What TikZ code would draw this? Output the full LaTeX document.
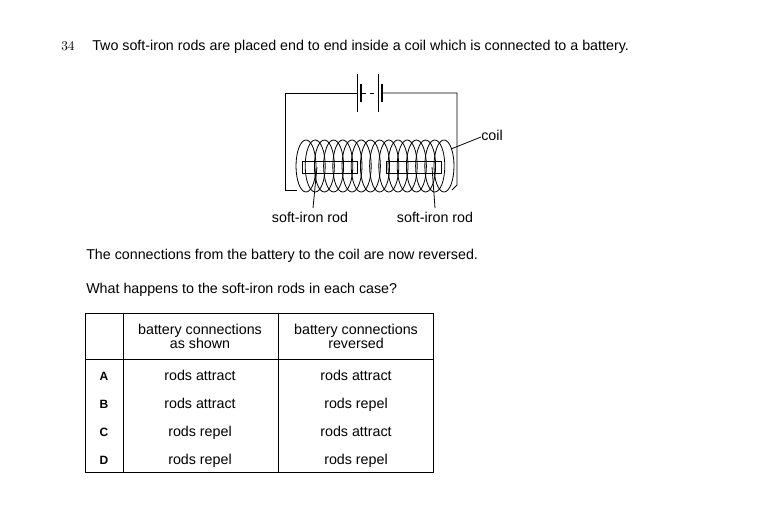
\documentclass[tikz,border=0pt]{standalone}
\usepackage{fontspec}
\setmainfont{Liberation Sans}
\begin{document}
\begin{tikzpicture}[x=0.75pt,y=-0.75pt,font=\fontsize{10.7}{12.5}\selectfont,
  lbl/.style={inner sep=0pt,text height=7.5pt,text depth=2pt},
  wire/.style={line width=0.6pt}]
\useasboundingbox (0,0) rectangle (759,518);

\node[lbl,anchor=west,font=\fontfamily{lmr}\selectfont\fontsize{10}{11}\selectfont] (num) at (61,47) {34};
\node[lbl,anchor=west] (q) at (92,47) {Two soft-iron rods are placed end to end inside a coil which is connected to a battery.};

% circuit
\coordinate (bl) at (357,93);
\coordinate (br) at (382,93);
\draw[wire] (bl) -- (285,93) -- (285,190) -- (297,190);
\draw[wire] (br) -- (457,93) -- (457,185) -- (452,190);
\draw[wire] (357,74) -- (357,112);
\draw[line width=1.2pt] (361,84) -- (361,102);
\draw[wire,dashed] (362,93) -- (378,93);
\draw[wire] (378,74) -- (378,112);
\draw[line width=1.2pt] (382,84) -- (382,102);

% rods
\draw[wire,fill=white] (302,161) rectangle (357,173);
\draw[wire,fill=white] (386,161) rectangle (441,173);

% coil
\foreach \i in {0,...,15}
  \draw[wire] ({306+\i*9.2},166) ellipse (10 and 26);

% labels
\node[lbl] (rod1) at (310,219) {soft-iron rod};
\node[lbl] (rod2) at (435,219) {soft-iron rod};
\node[lbl,anchor=west] (coil) at (481,137) {coil};
\draw[wire] (317,167) -- (313,208);
\draw[wire] (432,167) -- (435,208);
\draw[wire] (coil.west) -- (451,149);

\node[lbl,anchor=west] (t1) at (86,256) {The connections from the battery to the coil are now reversed.};
\node[lbl,anchor=west] (t2) at (86,290) {What happens to the soft-iron rods in each case?};

% table
\draw[wire] (85,313) rectangle (433,472);
\draw[wire] (123,313) -- (123,472);
\draw[wire] (278,313) -- (278,472);
\draw[wire] (85,359) -- (433,359);
\node[inner sep=0pt,align=center] (h1) at (200,336) {battery connections\\[-2pt]as shown};
\node[inner sep=0pt,align=center] (h2) at (356,336) {battery connections\\[-2pt]reversed};
\foreach \l/\a/\b [count=\k from 0] in {A/rods attract/rods attract,B/rods attract/rods repel,C/rods repel/rods attract,D/rods repel/rods repel}{
  \node[lbl,font=\bfseries\fontsize{9}{11}\selectfont] (r\k) at (104,{377+\k*28}) {\l};
  \node[lbl] (a\k) at (200,{377+\k*28}) {\a};
  \node[lbl] (b\k) at (356,{377+\k*28}) {\b};
}
\end{tikzpicture}
\end{document}
